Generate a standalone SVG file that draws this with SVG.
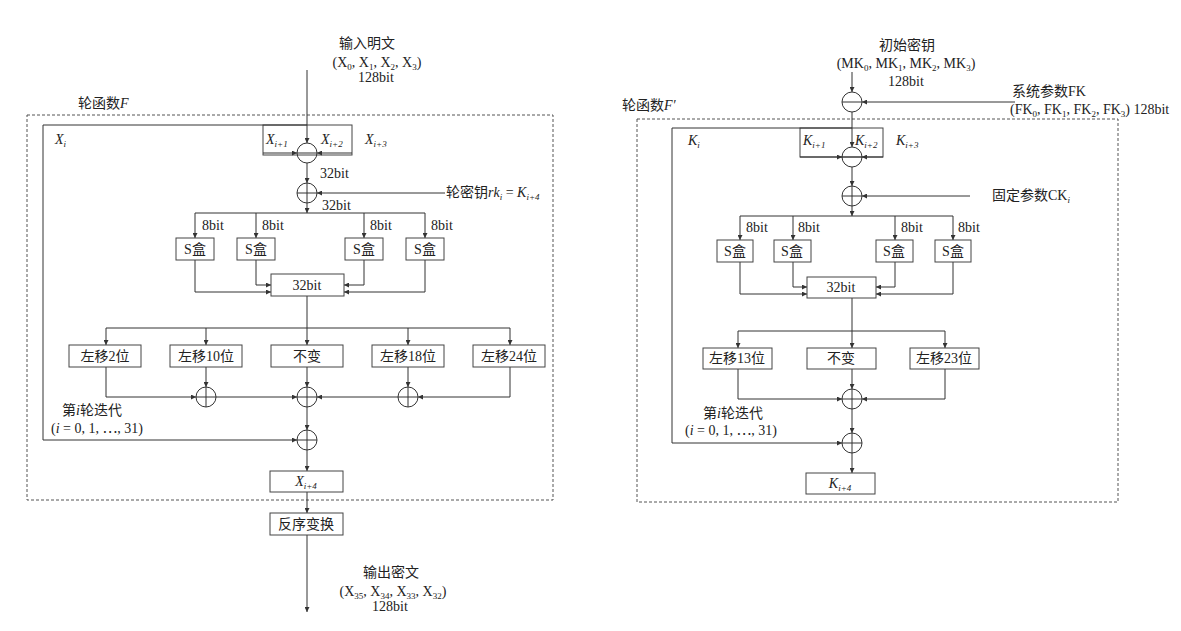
<svg xmlns="http://www.w3.org/2000/svg" width="1181" height="631" viewBox="0 0 1181 631">
<defs>
<marker id="a" viewBox="0 0 6 6" refX="6" refY="3" markerWidth="5" markerHeight="5" orient="auto"><path d="M0,0L6,3L0,6z" fill="#333"/></marker>
<style>
text{font-family:"Liberation Serif","Noto Sans CJK SC",serif;font-size:14px;fill:#222}
.c{text-anchor:middle}
.i{font-style:italic}
.s{font-size:9px}
rect{fill:#fff;stroke:#444;stroke-width:1}
.d{fill:none;stroke:#555;stroke-dasharray:3,2}
line,polyline{fill:none;stroke:#333;stroke-width:1}
.ar{marker-end:url(#a)}
circle{fill:none;stroke:#333}
</style>
</defs>
<rect width="1181" height="631" style="fill:#fff;stroke:none"/>
<rect class="d" x="27" y="115" width="526" height="385"/>
<rect class="d" x="637" y="119" width="481" height="383"/>
<rect x="263" y="125" width="89" height="30" style="fill:none"/>
<rect x="800" y="128" width="83" height="29" style="fill:none"/>
<g id="connectors">
<line class="ar" x1="307" y1="70" x2="307" y2="143"/>
<polyline class="ar" points="307,125 43,125 43,440 297,440"/>
<line class="ar" x1="263" y1="153" x2="297" y2="153"/>
<line class="ar" x1="352" y1="153" x2="317" y2="153"/>
<line class="ar" x1="307" y1="163" x2="307" y2="183"/>
<line class="ar" x1="445" y1="193" x2="317" y2="193"/>
<line class="ar" x1="307" y1="203" x2="307" y2="213"/>
<line x1="195" y1="213" x2="425" y2="213"/>
<line class="ar" x1="195" y1="213" x2="195" y2="238"/>
<line class="ar" x1="256" y1="213" x2="256" y2="238"/>
<line class="ar" x1="364" y1="213" x2="364" y2="238"/>
<line class="ar" x1="425" y1="213" x2="425" y2="238"/>
<polyline class="ar" points="195,260 195,292 271,292"/>
<polyline class="ar" points="256,260 256,285 271,285"/>
<polyline class="ar" points="364,260 364,285 344,285"/>
<polyline class="ar" points="425,260 425,292 344,292"/>
<line class="ar" x1="307" y1="296" x2="307" y2="345"/>
<line x1="106" y1="328" x2="510" y2="328"/>
<line class="ar" x1="106" y1="328" x2="106" y2="345"/>
<line class="ar" x1="206" y1="328" x2="206" y2="345"/>
<line class="ar" x1="408" y1="328" x2="408" y2="345"/>
<line class="ar" x1="510" y1="328" x2="510" y2="345"/>
<polyline class="ar" points="106,367 106,397 196,397"/>
<line class="ar" x1="206" y1="367" x2="206" y2="387"/>
<line class="ar" x1="216" y1="397" x2="297" y2="397"/>
<line class="ar" x1="307" y1="367" x2="307" y2="387"/>
<line class="ar" x1="408" y1="367" x2="408" y2="387"/>
<line class="ar" x1="398" y1="397" x2="317" y2="397"/>
<polyline class="ar" points="510,367 510,397 418,397"/>
<line class="ar" x1="307" y1="407" x2="307" y2="430"/>
<line class="ar" x1="307" y1="450" x2="307" y2="471"/>
<line class="ar" x1="307" y1="492" x2="307" y2="513"/>
<line class="ar" x1="307" y1="535" x2="307" y2="612"/>
<line class="ar" x1="852" y1="72" x2="852" y2="92"/>
<line class="ar" x1="1015" y1="102" x2="862" y2="102"/>
<line class="ar" x1="852" y1="112" x2="852" y2="147"/>
<polyline class="ar" points="852,128 672,128 672,443 842,443"/>
<line class="ar" x1="800" y1="157" x2="842" y2="157"/>
<line class="ar" x1="883" y1="157" x2="862" y2="157"/>
<line class="ar" x1="852" y1="167" x2="852" y2="186"/>
<line class="ar" x1="970" y1="196" x2="862" y2="196"/>
<line class="ar" x1="852" y1="206" x2="852" y2="216"/>
<line x1="740" y1="216" x2="953" y2="216"/>
<line class="ar" x1="740" y1="216" x2="740" y2="240"/>
<line class="ar" x1="793" y1="216" x2="793" y2="240"/>
<line class="ar" x1="895" y1="216" x2="895" y2="240"/>
<line class="ar" x1="953" y1="216" x2="953" y2="240"/>
<polyline class="ar" points="740,262 740,294 807,294"/>
<polyline class="ar" points="793,262 793,287 807,287"/>
<polyline class="ar" points="895,262 895,287 876,287"/>
<polyline class="ar" points="953,262 953,294 876,294"/>
<line class="ar" x1="852" y1="298" x2="852" y2="348"/>
<line x1="738" y1="331" x2="945" y2="331"/>
<line class="ar" x1="738" y1="331" x2="738" y2="348"/>
<line class="ar" x1="945" y1="331" x2="945" y2="348"/>
<polyline class="ar" points="738,369 738,399 842,399"/>
<line class="ar" x1="852" y1="369" x2="852" y2="389"/>
<polyline class="ar" points="945,369 945,399 862,399"/>
<line class="ar" x1="852" y1="409" x2="852" y2="433"/>
<line class="ar" x1="852" y1="453" x2="852" y2="473"/>
</g>
<g id="xors">
<g><circle cx="307" cy="153" r="10"/><line x1="297" y1="153" x2="317" y2="153"/></g>
<g><circle cx="307" cy="193" r="10"/><line x1="297" y1="193" x2="317" y2="193"/><line x1="307" y1="183" x2="307" y2="203"/></g>
<g><circle cx="206" cy="397" r="10"/><line x1="196" y1="397" x2="216" y2="397"/><line x1="206" y1="387" x2="206" y2="407"/></g>
<g><circle cx="307" cy="397" r="10"/><line x1="297" y1="397" x2="317" y2="397"/><line x1="307" y1="387" x2="307" y2="407"/></g>
<g><circle cx="408" cy="397" r="10"/><line x1="398" y1="397" x2="418" y2="397"/><line x1="408" y1="387" x2="408" y2="407"/></g>
<g><circle cx="307" cy="440" r="10"/><line x1="297" y1="440" x2="317" y2="440"/><line x1="307" y1="430" x2="307" y2="450"/></g>
<g><circle cx="852" cy="102" r="10"/><line x1="842" y1="102" x2="862" y2="102"/></g>
<g><circle cx="852" cy="157" r="10"/><line x1="842" y1="157" x2="862" y2="157"/></g>
<g><circle cx="852" cy="196" r="10"/><line x1="842" y1="196" x2="862" y2="196"/><line x1="852" y1="186" x2="852" y2="206"/></g>
<g><circle cx="852" cy="399" r="10"/><line x1="842" y1="399" x2="862" y2="399"/><line x1="852" y1="389" x2="852" y2="409"/></g>
<g><circle cx="852" cy="443" r="10"/><line x1="842" y1="443" x2="862" y2="443"/><line x1="852" y1="433" x2="852" y2="453"/></g>
</g>
<g id="left-nodes">
<g id="sb1"><rect x="176" y="238" width="38" height="22"/><text class="c" x="195" y="254">S盒</text></g>
<g id="sb2"><rect x="237" y="238" width="38" height="22"/><text class="c" x="256" y="254">S盒</text></g>
<g id="sb3"><rect x="345" y="238" width="38" height="22"/><text class="c" x="364" y="254">S盒</text></g>
<g id="sb4"><rect x="406" y="238" width="38" height="22"/><text class="c" x="425" y="254">S盒</text></g>
<g id="b32"><rect x="271" y="274" width="73" height="22"/><text class="c" x="307" y="290">32bit</text></g>
<g id="l2"><rect x="69" y="345" width="72" height="22"/><text class="c" x="105" y="361">左移2位</text></g>
<g id="l10"><rect x="170" y="345" width="72" height="22"/><text class="c" x="206" y="361">左移10位</text></g>
<g id="bb"><rect x="271" y="345" width="72" height="22"/><text class="c" x="307" y="361">不变</text></g>
<g id="l18"><rect x="372" y="345" width="72" height="22"/><text class="c" x="408" y="361">左移18位</text></g>
<g id="l24"><rect x="473" y="345" width="72" height="22"/><text class="c" x="509" y="361">左移24位</text></g>
<g id="x4"><rect x="270" y="471" width="73" height="21"/><text class="c i" x="306" y="486">X<tspan class="s" dy="3">i+4</tspan></text></g>
<g id="rev"><rect x="270" y="513" width="73" height="22"/><text class="c" x="306" y="529">反序变换</text></g>
</g>
<g id="left-labels">
<text class="c" x="367" y="48">输入明文</text>
<text class="c" x="377" y="67">(X<tspan class="s" dy="3">0</tspan><tspan dy="-3">, X</tspan><tspan class="s" dy="3">1</tspan><tspan dy="-3">, X</tspan><tspan class="s" dy="3">2</tspan><tspan dy="-3">, X</tspan><tspan class="s" dy="3">3</tspan><tspan dy="-3">)</tspan></text>
<text class="c" x="376" y="82">128bit</text>
<text x="78" y="108">轮函数<tspan class="i">F</tspan></text>
<text class="i" x="55" y="144">X<tspan class="s" dy="3">i</tspan></text>
<text class="i" x="266" y="144">X<tspan class="s" dy="3">i+1</tspan></text>
<text class="i" x="321" y="144">X<tspan class="s" dy="3">i+2</tspan></text>
<text class="i" x="365" y="144">X<tspan class="s" dy="3">i+3</tspan></text>
<text x="320" y="178">32bit</text>
<text x="322" y="210">32bit</text>
<text x="446" y="197">轮密钥<tspan class="i">rk</tspan><tspan class="s i" dy="3">i</tspan><tspan dy="-3"> = </tspan><tspan class="i">K</tspan><tspan class="s i" dy="3">i+4</tspan></text>
<text x="202" y="230">8bit</text>
<text x="262" y="230">8bit</text>
<text x="370" y="230">8bit</text>
<text x="431" y="230">8bit</text>
<text x="62" y="415">第<tspan class="i">i</tspan>轮迭代</text>
<text x="51" y="433">(<tspan class="i">i</tspan> = 0, 1, ⋯, 31)</text>
<text class="c" x="391" y="577">输出密文</text>
<text class="c" x="393" y="596">(X<tspan class="s" dy="3">35</tspan><tspan dy="-3">, X</tspan><tspan class="s" dy="3">34</tspan><tspan dy="-3">, X</tspan><tspan class="s" dy="3">33</tspan><tspan dy="-3">, X</tspan><tspan class="s" dy="3">32</tspan><tspan dy="-3">)</tspan></text>
<text class="c" x="390" y="611">128bit</text>
</g>
<g id="right-nodes">
<g id="rs1"><rect x="717" y="240" width="36" height="22"/><text class="c" x="735" y="256">S盒</text></g>
<g id="rs2"><rect x="774" y="240" width="37" height="22"/><text class="c" x="792" y="256">S盒</text></g>
<g id="rs3"><rect x="876" y="240" width="37" height="22"/><text class="c" x="894" y="256">S盒</text></g>
<g id="rs4"><rect x="935" y="240" width="36" height="22"/><text class="c" x="953" y="256">S盒</text></g>
<g id="r32"><rect x="807" y="277" width="69" height="21"/><text class="c" x="841" y="292">32bit</text></g>
<g id="r13"><rect x="703" y="348" width="69" height="21"/><text class="c" x="737" y="363">左移13位</text></g>
<g id="rbb"><rect x="807" y="348" width="69" height="21"/><text class="c" x="841" y="363">不变</text></g>
<g id="r23"><rect x="910" y="348" width="69" height="21"/><text class="c" x="944" y="363">左移23位</text></g>
<g id="rk4"><rect x="806" y="473" width="69" height="21"/><text class="c i" x="840" y="488">K<tspan class="s" dy="3">i+4</tspan></text></g>
</g>
<g id="right-labels">
<text class="c" x="907" y="50">初始密钥</text>
<text class="c" x="906" y="68">(MK<tspan class="s" dy="3">0</tspan><tspan dy="-3">, MK</tspan><tspan class="s" dy="3">1</tspan><tspan dy="-3">, MK</tspan><tspan class="s" dy="3">2</tspan><tspan dy="-3">, MK</tspan><tspan class="s" dy="3">3</tspan><tspan dy="-3">)</tspan></text>
<text class="c" x="906" y="86">128bit</text>
<text class="c" x="1049" y="96">系统参数FK</text>
<text x="1010" y="114">(FK<tspan class="s" dy="3">0</tspan><tspan dy="-3">, FK</tspan><tspan class="s" dy="3">1</tspan><tspan dy="-3">, FK</tspan><tspan class="s" dy="3">2</tspan><tspan dy="-3">, FK</tspan><tspan class="s" dy="3">3</tspan><tspan dy="-3">)  128bit</tspan></text>
<text x="622" y="110">轮函数<tspan class="i">F′</tspan></text>
<text class="i" x="688" y="145">K<tspan class="s" dy="3">i</tspan></text>
<text class="i" x="803" y="145">K<tspan class="s" dy="3">i+1</tspan></text>
<text class="i" x="855" y="145">K<tspan class="s" dy="3">i+2</tspan></text>
<text class="i" x="896" y="145">K<tspan class="s" dy="3">i+3</tspan></text>
<text x="992" y="200">固定参数CK<tspan class="s i" dy="3">i</tspan></text>
<text x="746" y="232">8bit</text>
<text x="798" y="232">8bit</text>
<text x="901" y="232">8bit</text>
<text x="958" y="232">8bit</text>
<text x="703" y="418">第<tspan class="i">i</tspan>轮迭代</text>
<text x="685" y="435">(<tspan class="i">i</tspan> = 0, 1, ⋯, 31)</text>
</g>
</svg>
